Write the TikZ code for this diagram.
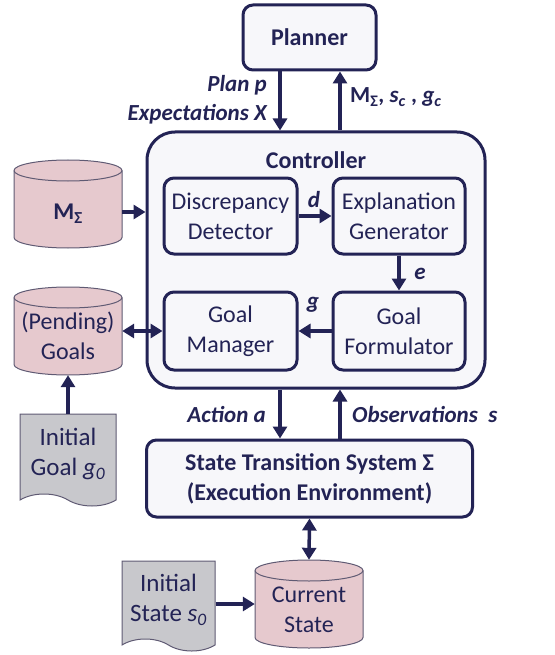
\documentclass[tikz,border=0pt]{standalone}
\usepackage{fontspec}
\setmainfont{Carlito}
\usetikzlibrary{shapes.symbols,arrows.meta}

\definecolor{goalSketchInk}{RGB}{35,35,85}
\definecolor{goalSketchBoxFill}{RGB}{247,247,250}
\definecolor{goalSketchStoreFill}{RGB}{230,201,206}
\definecolor{goalSketchThin}{RGB}{95,90,115}
\definecolor{goalSketchDocFill}{RGB}{200,200,204}
\tikzset{goalSketchBox/.style={
    font=\fontsize{24}{30}\selectfont,
    text=goalSketchInk,
    fill=goalSketchBoxFill,
    line width=3pt,
    rounded corners=10pt,
    draw=goalSketchInk,
    align=center,
    inner sep=0pt,
  }
}
\tikzset{goalSketchStore/.style={
    fill=goalSketchStoreFill,
    draw=goalSketchThin,
    line width=1pt,
  }
}
\tikzset{goalSketchStoreText/.style={
    font=\fontsize{24}{30}\selectfont,
    text=goalSketchInk,
    inner sep=0pt,
  }
}
\tikzset{goalSketchDoc/.style={
    tape,
    tape bend top=none,
    tape bend bottom=out and in,
    tape bend height=12pt,
    font=\fontsize{25}{30}\selectfont,
    text=goalSketchInk,
    fill=goalSketchDocFill,
    draw=goalSketchThin,
    line width=1pt,
    align=center,
    inner sep=0pt,
  }
}
\tikzset{goalSketchLabel/.style={
    font=\fontsize{23}{28}\selectfont\bfseries\itshape,
    text=goalSketchInk,
    inner sep=0pt,
  }
}
\tikzset{goalSketchArrow/.style={
    ->,
    >={Triangle[length=12pt,width=14pt]},
    line width=3.5pt,
    goalSketchInk,
  }
}
% name, x, y, text drop, text
\newcommand{\goalSketchDrawStore}[5]{
  \path[goalSketchStore] (#2-54, #3-33.5) -- (#2-54, #3+33.5)
  arc[start angle=180, end angle=360, x radius=54pt, y radius=10.5pt]
  -- (#2+54, #3-33.5)
  arc[start angle=0, end angle=180, x radius=54pt, y radius=10.5pt] -- cycle;
  \draw[goalSketchStore, fill=none] (#2-54, #3-33.5)
  arc[start angle=180, end angle=360, x radius=54pt, y radius=10.5pt];
  \node [goalSketchStoreText, minimum width=108pt, minimum height=88pt] (#1)
  at (#2, #3) {\smash{\raisebox{-#4pt}{\begin{tabular}{@{}c@{}}#5\end{tabular}}}};
}

\begin{document}
\begin{tikzpicture}[x=1pt, y=-1pt]
  \useasboundingbox (0,0) rectangle (554,655);

  % top and controller
  \node [goalSketchBox, font=\fontsize{24}{30}\selectfont\bfseries,
    minimum width=133pt, minimum height=65pt] (planner)
  at (309.5, 37.5) {Planner};
  \node [goalSketchBox, rounded corners=28pt,
    minimum width=338pt, minimum height=256pt] (controller)
  at (316, 260) {};
  \node [goalSketchLabel, font=\fontsize{24}{30}\selectfont\bfseries] (ctrltitle)
  at (316, 160) {Controller};

  \node [goalSketchBox, minimum width=133pt, minimum height=76pt] (detector)
  at (230.5, 216) {Discrepancy\\Detector};
  \node [goalSketchBox, minimum width=132pt, minimum height=76pt] (explainer)
  at (399, 216) {Explanation\\Generator};
  \node [goalSketchBox, minimum width=133pt, minimum height=78pt] (manager)
  at (230.5, 331) {Goal\\Manager};
  \node [goalSketchBox, minimum width=132pt, minimum height=78pt] (formulator)
  at (399, 331) {Goal\\Formulator};

  % stores and documents
  \goalSketchDrawStore{model}{68}{204}{16}{\textbf{M\textsubscript{Σ}}}
  \goalSketchDrawStore{goals}{68}{331}{14}{(Pending)\\Goals}
  \node [goalSketchDoc, minimum width=96pt, minimum height=92pt] (initgoal)
  at (68, 454) {Initial\\Goal \textit{g}\textsubscript{\textit{0}}};

  \node [goalSketchBox, font=\fontsize{24}{30}\selectfont\bfseries,
    minimum width=326pt, minimum height=77pt] (sts)
  at (309.5, 478.5) {State Transition System Σ\\(Execution Environment)};
  \goalSketchDrawStore{current}{309}{604}{14}{Current\\State}
  \node [goalSketchDoc, minimum width=93pt, minimum height=90pt] (initstate)
  at (168.5, 600) {Initial\\State \textit{s}\textsubscript{\textit{0}}};

  % connectors
  \draw[goalSketchArrow] ([xshift=-29.5pt]planner.south) to ([xshift=-29.5pt]planner.south |- controller.north);
  \draw[goalSketchArrow] ([xshift=30.5pt]planner.south |- controller.north) to ([xshift=30.5pt]planner.south);
  \draw[goalSketchArrow] (detector.east) to (explainer.west);
  \draw[goalSketchArrow] (explainer.south) to (formulator.north);
  \draw[goalSketchArrow] (formulator.west) to (manager.east);
  \draw[goalSketchArrow] ([yshift=-8pt]model.east) to ([yshift=-8pt]controller.west |- model.east);
  \draw[goalSketchArrow, <->] (goals.east) to (manager.west);
  \draw[goalSketchArrow] (initgoal.north) to (goals.south);
  \draw[goalSketchArrow] ([xshift=-29.5pt]sts.north |- controller.south) to ([xshift=-29.5pt]sts.north);
  \draw[goalSketchArrow] ([xshift=30.5pt]sts.north) to ([xshift=30.5pt]sts.north |- controller.south);
  \draw[goalSketchArrow, <->] (sts.south) to (current.north);
  \draw[goalSketchArrow] (initstate.east |- current.center) to (current.west);

  % labels
  \node [goalSketchLabel, anchor=east] at (267, 85) {Plan p};
  \node [goalSketchLabel, anchor=east] at (267, 114) {Expectations X};
  \node [goalSketchLabel, anchor=west, font=\fontsize{23}{28}\selectfont\bfseries]
  at (350, 97) {M\textsubscript{Σ}, \textit{s}\textsubscript{\textit{c}} , \textit{g}\textsubscript{\textit{c}}};
  \node [goalSketchLabel] at (314, 200) {d};
  \node [goalSketchLabel] at (420, 274) {e};
  \node [goalSketchLabel] at (313, 305) {g};
  \node [goalSketchLabel, anchor=east] at (266, 415) {Action a};
  \node [goalSketchLabel, anchor=west] at (352, 415) {Observations\ \ s};
\end{tikzpicture}
\end{document}
